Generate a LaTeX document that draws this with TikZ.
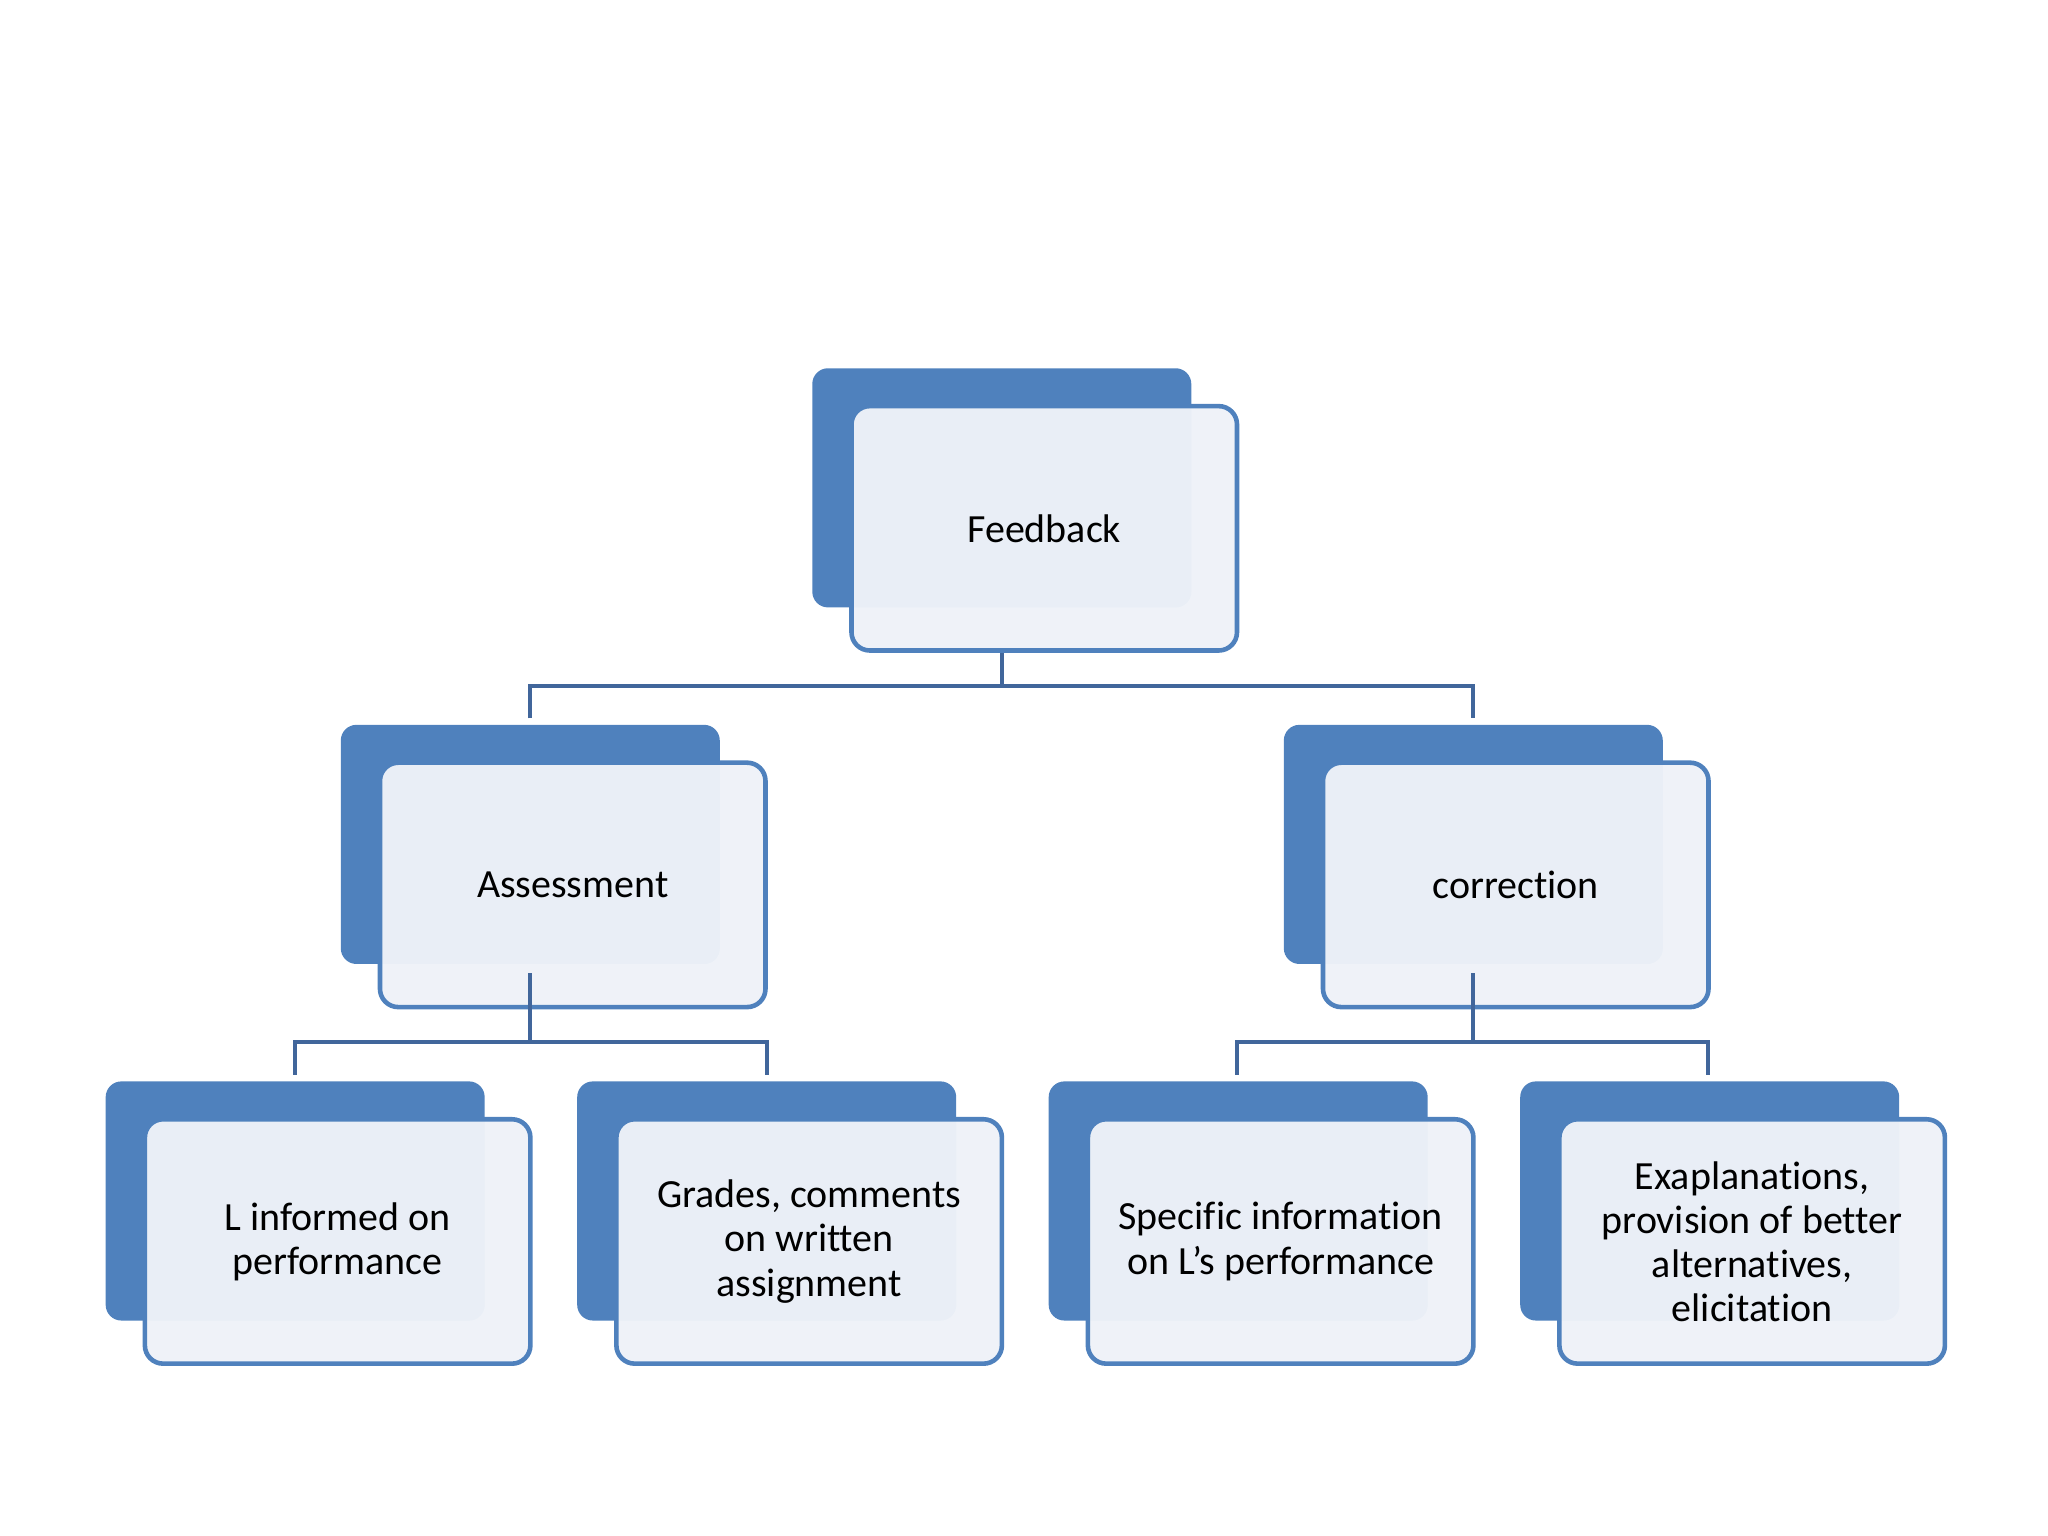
\documentclass[tikz,border=0pt]{standalone}
\usepackage{fontspec}
\setmainfont{Carlito}[Ligatures=NoCommon]
\definecolor{bblue}{HTML}{4F81BD}
\definecolor{lblue}{HTML}{EEF2F8}
\definecolor{cblue}{HTML}{41669B}
\begin{document}
\begin{tikzpicture}[x=0.01cm,y=-0.01cm,
  back/.style={fill=bblue,draw=none,rounded corners=0.12cm,minimum width=2.9cm,minimum height=1.83cm,inner sep=0pt},
  front/.style={fill=lblue,fill opacity=0.97,text opacity=1,draw=bblue,line width=1pt,rounded corners=0.14cm,minimum width=2.95cm,minimum height=1.87cm,inner sep=2pt,align=center,font=\fontsize{8.7}{9.6}\selectfont},
  conn/.style={draw=cblue,line width=0.9pt}]
\useasboundingbox (0,0) rectangle (1568,1176);
\newcommand{\elem}[4]{% name, back x, back y, text
  \node[back] (#1b) at (#2+145,#3+91.5) {};
  \node[front] (#1) at (#2+177.5,#3+122.5) {#4};}
\elem{fb}{622}{282}{Feedback}
\elem{as}{261}{555}{Assessment}
\elem{co}{983}{555}{correction}
\elem{l1}{81}{828}{L informed on\\performance}
\elem{l2}{442}{828}{Grades, comments\\on written\\assignment}
\elem{l3}{803}{828}{Specific information\\on L’s performance}
\elem{l4}{1164}{828}{Exaplanations,\\provision of better\\alternatives,\\elicitation}
\coordinate (fbj) at (767,525);
\draw[conn] (fbj) -- (fbj |- fb.south);
\draw[conn] (406,550) |- (fbj) -| (1128,550);
\coordinate (asj) at (406,798);
\draw[conn] (asj) -- (406,745);
\draw[conn] (226,823) |- (asj) -| (587,823);
\coordinate (coj) at (1128,798);
\draw[conn] (coj) -- (1128,745);
\draw[conn] (947,823) |- (coj) -| (1308,823);
\end{tikzpicture}
\end{document}
